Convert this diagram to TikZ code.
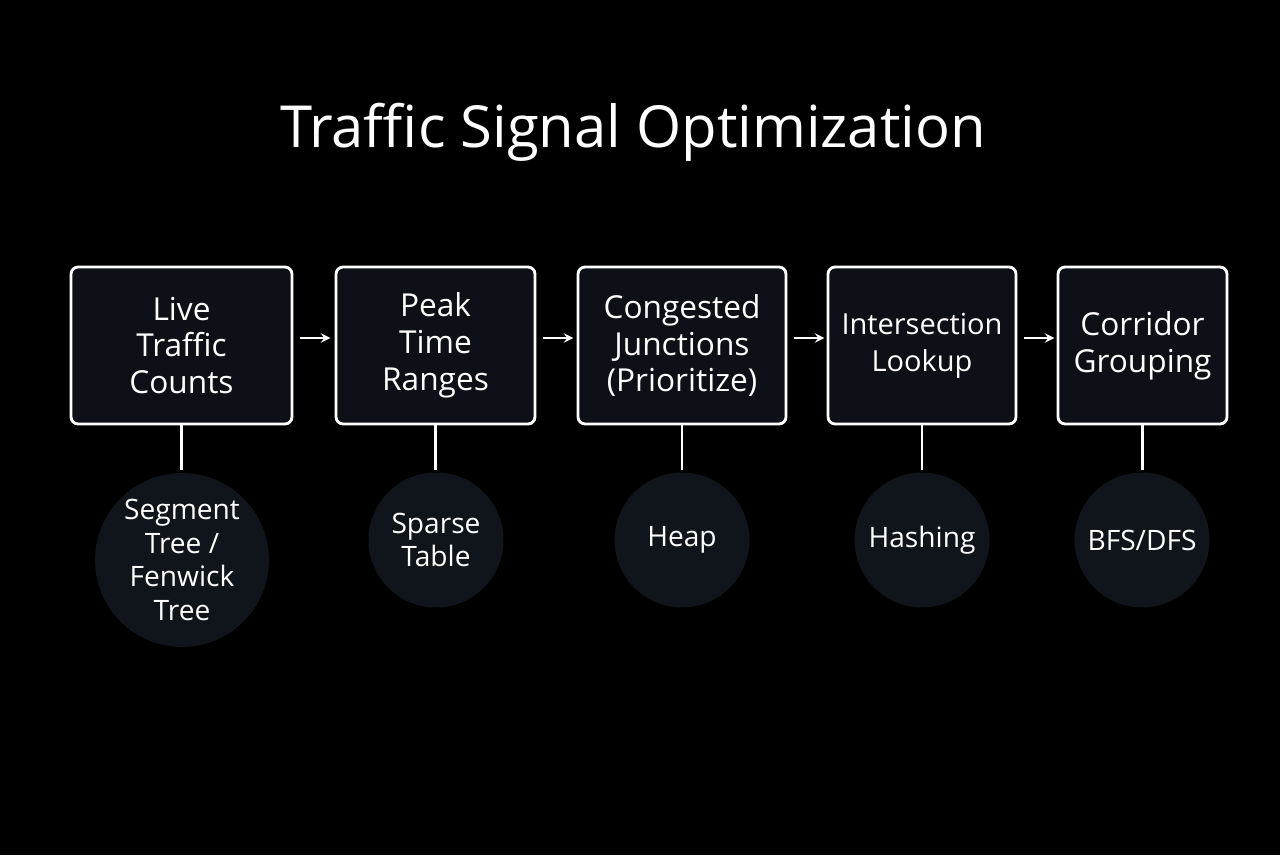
\documentclass[tikz,border=0pt]{standalone}
\usepackage{fontspec}
\setmainfont{Open Sans}
\usetikzlibrary{positioning}

\begin{document}
\begin{tikzpicture}[x=0.02cm, y=-0.02cm,
    stepbox/.style={draw=white, line width=1.6pt, rounded corners=4pt, fill=boxfill,
        text=white, align=center, font=\fontsize{18}{21}\selectfont, minimum height=3.14cm,
        inner xsep=1pt},
    dsnode/.style={circle, fill=dotfill, text=white, align=center,
        font=\fontsize{16}{19}\selectfont, inner sep=0pt},
    flow/.style={white, line width=1.4pt, ->, >=stealth},
    stem/.style={white, line width=1.2pt}]
    \definecolor{boxfill}{HTML}{0D1016}
    \definecolor{dotfill}{HTML}{0F151B}

    % background and frame
    \fill[black] (0,0) rectangle (1280,855);
    \useasboundingbox (0,0) rectangle (1280,855);

    \node[text=white, font=\fontsize{33}{38}\selectfont] (title) at (633,132) {Traffic Signal Optimization};

    % the five stages
    \node[stepbox, minimum width=4.42cm] (live) at (181.5,345.5) {Live\\Traffic\\Counts};
    \node[stepbox, minimum width=3.98cm] (peak) at (435.5,345.5) {Peak\\Time\\Ranges};
    \node[stepbox, minimum width=4.16cm] (cong) at (682,345.5) {Congested\\Junctions\\(Prioritize)};
    \node[stepbox, minimum width=3.76cm, font=\fontsize{16.5}{21}\selectfont] (inter) at (922,345.5) {Intersection\\Lookup};
    \node[stepbox, minimum width=3.38cm] (corr) at (1142.5,345.5) {Corridor\\Grouping};

    % data structures
    \node[dsnode, minimum size=3.48cm] (seg) at (182,560) {Segment\\Tree /\\Fenwick\\Tree};
    \node[dsnode, minimum size=2.7cm] (sparse) at (436,540) {Sparse\\Table};
    \node[dsnode, minimum size=2.7cm] (heap) at (682,540) {Heap};
    \node[dsnode, minimum size=2.7cm] (hash) at (922,540) {Hashing};
    \node[dsnode, minimum size=2.7cm] (bfs) at (1142,540) {BFS/DFS};

    \draw[flow] ([xshift=4pt]live.east |- 0,338) -- ++(30,0);
    \draw[flow] ([xshift=4pt]peak.east |- 0,338) -- ++(30,0);
    \draw[flow] ([xshift=4pt]cong.east |- 0,338) -- ++(30,0);
    \draw[flow] ([xshift=4pt]inter.east |- 0,338) -- ++(30,0);

    \foreach \a/\b in {live/seg, peak/sparse, cong/heap, inter/hash, corr/bfs}
        \draw[stem] (\a.south) -- (\a.south |- 0,470);

\end{tikzpicture}
\end{document}
